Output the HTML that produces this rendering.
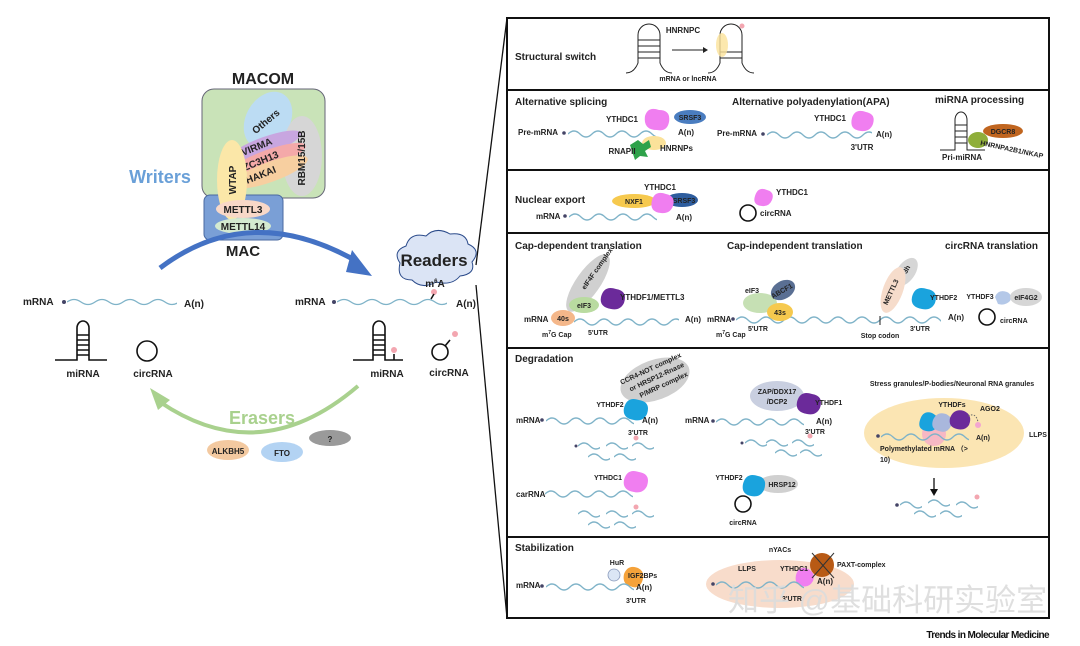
<!DOCTYPE html>
<html><head><meta charset="utf-8"><style>
html,body{margin:0;padding:0;background:#fff;width:1080px;height:646px;overflow:hidden}
svg{display:block}
text{font-family:"Liberation Sans","Noto Sans CJK SC",sans-serif;font-weight:bold;fill:#222}
.s{font-size:8px}
.t{font-size:10px}
.w{fill:none;stroke:#7fb3c8;stroke-width:1.3}
.bk{fill:none;stroke:#111;stroke-width:1.6}
</style></head><body>
<svg width="1080" height="646" viewBox="0 0 1080 646" xmlns="http://www.w3.org/2000/svg">
<defs>
<path id="wv" d="M0 0 q6 -6 12 0 t12 0 t12 0 t12 0 t12 0 t12 0 t12 0 t12 0 t12 0 t12 0 t12 0 t12 0 t12 0 t12 0 t12 0 t12 0 t12 0 t12 0"/>
<path id="wv2" d="M0 0 q7 -5 14 0 t14 0 t14 0 t14 0 t14 0 t14 0 t14 0 t14 0 t14 0"/>
<clipPath id="c1"><rect x="0" y="-10" width="110" height="20"/></clipPath>
<clipPath id="c2"><rect x="0" y="-10" width="88" height="20"/></clipPath>
<clipPath id="c3"><rect x="0" y="-10" width="105" height="20"/></clipPath>
<clipPath id="c4"><rect x="0" y="-10" width="205" height="20"/></clipPath>
<clipPath id="c5"><rect x="0" y="-10" width="22" height="20"/></clipPath>
</defs>

<!-- LEFT -->
<text x="263" y="84" font-size="16" text-anchor="middle">MACOM</text>
<rect x="202" y="89" width="123" height="109" rx="12" fill="#c9e3b8" stroke="#667" stroke-width="1"/>
<ellipse cx="268" cy="120" rx="22" ry="30" fill="#bcdcf3" transform="rotate(30 268 120)"/>
<ellipse cx="302" cy="156" rx="20" ry="40" fill="#d6d6d6"/>
<ellipse cx="265" cy="146" rx="38" ry="9" fill="#c8a6e0" transform="rotate(-20 265 146)"/>
<ellipse cx="268" cy="159" rx="40" ry="9" fill="#f4a9a9" transform="rotate(-20 268 159)"/>
<ellipse cx="270" cy="172" rx="40" ry="10" fill="#f7cfa0" transform="rotate(-20 270 172)"/>
<text x="268" y="124" class="t" text-anchor="middle" transform="rotate(-40 268 124)">Others</text>
<text x="305" y="158" class="t" text-anchor="middle" transform="rotate(-90 305 158)">RBM15/15B</text>
<text x="258" y="150" class="t" text-anchor="middle" transform="rotate(-22 258 150)">VIRMA</text>
<text x="262" y="164" class="t" text-anchor="middle" transform="rotate(-22 262 164)">ZC3H13</text>
<text x="262" y="178" class="t" text-anchor="middle" transform="rotate(-22 262 178)">HAKAI</text>
<rect x="204" y="195" width="79" height="45" rx="6" fill="#7a9fd6" stroke="#4a6aa0" stroke-width="1"/>
<ellipse cx="232" cy="180" rx="15" ry="40" fill="#fbe7a8"/>
<text x="236" y="180" class="t" text-anchor="middle" transform="rotate(-90 236 180)">WTAP</text>
<ellipse cx="243" cy="209" rx="27" ry="9" fill="#f8d8c8"/>
<text x="243" y="213" class="t" text-anchor="middle">METTL3</text>
<ellipse cx="243" cy="226" rx="28" ry="8" fill="#d4ead0"/>
<text x="243" y="230" class="t" text-anchor="middle">METTL14</text>
<text x="243" y="256" font-size="15" text-anchor="middle">MAC</text>
<text x="160" y="183" font-size="18" text-anchor="middle" style="fill:#6aa0d8">Writers</text>
<path d="M160 268 Q 250 200 358 262" fill="none" stroke="#4472c4" stroke-width="5"/>
<polygon points="352,250 372,276 346,272" fill="#4472c4"/>

<text x="23" y="305" class="t">mRNA</text>
<circle cx="64" cy="302" r="2" fill="#446"/>
<use href="#wv2" class="w" transform="translate(67 302)" clip-path="url(#c1)"/>
<text x="184" y="307" class="t">A(n)</text>

<path d="M400 263 q-8 -12 6 -17 q4 -14 20 -10 q10 -10 24 -2 q16 -2 18 10 q14 6 4 18 q4 12 -12 14 q-8 10 -24 6 q-14 8 -24 -2 q-16 0 -12 -17z" fill="#dbe4f5" stroke="#2a4a8a" stroke-width="1"/>
<text x="434" y="266" font-size="17" text-anchor="middle">Readers</text>
<text x="435" y="287" class="t" text-anchor="middle">m<tspan font-size="6" dy="-4">6</tspan><tspan dy="4">A</tspan></text>
<text x="295" y="305" class="t">mRNA</text>
<circle cx="334" cy="302" r="2" fill="#446"/>
<use href="#wv2" class="w" transform="translate(337 302)" clip-path="url(#c1)"/>
<circle cx="434" cy="292" r="3" fill="#f3a6b0"/>
<line x1="434" y1="294" x2="431" y2="299" stroke="#111" stroke-width="1.5"/>
<text x="456" y="307" class="t">A(n)</text>

<!-- stem loops -->
<g class="bk">
<path d="M55 360 H77 V328 a6 7 0 0 1 12 0 V360 H107"/>
<path d="M77 335 H89 M77 340 H89 M77 345 H89 M77 350 H89 M77 355 H89"/>
</g>
<text x="83" y="377" class="t" text-anchor="middle">miRNA</text>
<circle cx="147" cy="351" r="10" class="bk"/>
<text x="153" y="377" class="t" text-anchor="middle">circRNA</text>
<g class="bk">
<path d="M353 360 H373 V328 a6 7 0 0 1 12 0 V360 H403"/>
<path d="M373 335 H385 M373 340 H385 M373 345 H385 M373 350 H385 M373 355 H385"/>
<path d="M394 360 V354"/>
</g>
<circle cx="394" cy="350" r="3" fill="#f3a6b0"/>
<text x="387" y="377" class="t" text-anchor="middle">miRNA</text>
<circle cx="440" cy="352" r="8" class="bk"/>
<line x1="445" y1="346" x2="450" y2="340" stroke="#111" stroke-width="1.6"/>
<circle cx="455" cy="334" r="3" fill="#f3a6b0"/>
<text x="449" y="376" class="t" text-anchor="middle">circRNA</text>

<path d="M358 386 Q 260 470 160 402" fill="none" stroke="#a9d18e" stroke-width="4"/>
<polygon points="150,388 170,400 158,410" fill="#a9d18e"/>
<text x="262" y="424" font-size="18" text-anchor="middle" style="fill:#a9d18e">Erasers</text>
<ellipse cx="228" cy="450" rx="21" ry="10" fill="#f3c9a0"/>
<text x="228" y="454" class="s" text-anchor="middle">ALKBH5</text>
<ellipse cx="282" cy="452" rx="21" ry="10" fill="#b3d3f3"/>
<text x="282" y="456" class="s" text-anchor="middle">FTO</text>
<ellipse cx="330" cy="438" rx="21" ry="8" fill="#9a9a9a"/>
<text x="330" y="442" class="s" text-anchor="middle">?</text>

<!-- bracket lines -->
<line x1="476" y1="265" x2="507" y2="18" stroke="#111" stroke-width="1.3"/>
<line x1="476" y1="285" x2="507" y2="618" stroke="#111" stroke-width="1.3"/>

<!-- RIGHT PANELS -->
<rect x="507" y="18" width="542" height="600" fill="none" stroke="#111" stroke-width="2"/>
<g stroke="#111" stroke-width="2">
<line x1="507" y1="90" x2="1049" y2="90"/><line x1="507" y1="170" x2="1049" y2="170"/>
<line x1="507" y1="233" x2="1049" y2="233"/><line x1="507" y1="348" x2="1049" y2="348"/>
<line x1="507" y1="537" x2="1049" y2="537"/>
</g>

<!-- structural switch -->
<text x="515" y="60" class="t">Structural  switch</text>
<g fill="none" stroke="#222" stroke-width="1">
<path d="M626 73 q8 0 12 -10 V35 a10 10 0 0 1 22 0 V63 q4 10 12 10"/>
<path d="M638 40 H660 M638 46 H660 M638 52 H660 M638 58 H660"/>
<path d="M708 73 q8 0 12 -10 V35 a10 10 0 0 1 22 0 V63 q4 10 12 10"/>
<path d="M720 58 H742 M720 52 H742"/>
<path d="M672 50 H703"/>
</g>
<polygon points="703,47 708,50 703,53" fill="#222"/>
<ellipse cx="722" cy="45" rx="6" ry="12" fill="#fbe29a" opacity="0.8"/>
<circle cx="742" cy="26" r="2.5" fill="#f3a6b0"/>
<text x="683" y="33" class="s" text-anchor="middle">HNRNPC</text>
<text x="688" y="81" font-size="7" text-anchor="middle">mRNA or lncRNA</text>

<!-- alt splicing -->
<text x="515" y="105" class="t">Alternative splicing</text>
<text x="518" y="135" class="s">Pre-mRNA</text>
<circle cx="564" cy="133" r="1.8" fill="#446"/>
<use href="#wv" class="w" transform="translate(568 134)" clip-path="url(#c2)"/>
<ellipse cx="690" cy="117" rx="16" ry="7" fill="#4a7dc0"/>
<text x="690" y="120" font-size="7" text-anchor="middle">SRSF3</text>
<path d="M645 116 q3 -10 14 -6 q12 0 10 12 q-2 10 -12 8 q-14 0 -12 -14z" fill="#f07ef0"/>
<text x="622" y="122" class="s" text-anchor="middle">YTHDC1</text>
<text x="678" y="135" class="s">A(n)</text>
<ellipse cx="654" cy="143" rx="12" ry="7" fill="#fbe29a"/>
<path d="M630 145 l8 -5 l5 4 l6 -4 l2 7 l-6 4 l3 6 l-8 -1 l-5 4 l-2 -6z" fill="#2ea24a"/>
<text x="622" y="154" class="s" text-anchor="middle">RNAPII</text>
<text x="660" y="151" class="s">HNRNPs</text>

<text x="732" y="105" class="t">Alternative polyadenylation(APA)</text>
<text x="717" y="136" class="s">Pre-mRNA</text>
<circle cx="763" cy="134" r="1.8" fill="#446"/>
<use href="#wv" class="w" transform="translate(767 135)" clip-path="url(#c3)"/>
<path d="M852 118 q3 -10 14 -6 q10 2 7 12 q-3 8 -12 7 q-12 -1 -9 -13z" fill="#f07ef0"/>
<text x="830" y="121" class="s" text-anchor="middle">YTHDC1</text>
<text x="876" y="137" class="s">A(n)</text>
<text x="862" y="150" class="s" text-anchor="middle">3'UTR</text>

<text x="935" y="103" class="t">miRNA processing</text>
<g fill="none" stroke="#222" stroke-width="1">
<path d="M940 150 H955 V120 M967 120 V150 H985"/>
<path d="M955 125 H967 M955 131 H967 M955 137 H967 M955 143 H967"/>
<path d="M955 120 a6 8 0 1 1 12 0"/>
</g>
<ellipse cx="1003" cy="131" rx="20" ry="7" fill="#c0651f"/>
<text x="1003" y="134" font-size="7" text-anchor="middle">DGCR8</text>
<ellipse cx="978" cy="140" rx="10" ry="8" fill="#8fae3a"/>
<text x="980" y="145" font-size="7" transform="rotate(12 980 145)">HNRNPA2B1/NKAP</text>
<text x="942" y="160" class="s">Pri-miRNA</text>

<!-- nuclear export -->
<text x="515" y="203" class="t">Nuclear export</text>
<text x="536" y="219" class="s">mRNA</text>
<circle cx="565" cy="216" r="1.8" fill="#446"/>
<use href="#wv" class="w" transform="translate(569 217)" clip-path="url(#c2)"/>
<ellipse cx="634" cy="201" rx="22" ry="7" fill="#f6c94e"/>
<text x="634" y="204" font-size="7" text-anchor="middle">NXF1</text>
<ellipse cx="682" cy="200" rx="16" ry="7" fill="#2e5d9e"/>
<text x="684" y="203" font-size="7" text-anchor="middle">SRSF3</text>
<path d="M652 200 q3 -10 14 -6 q10 2 7 12 q-3 8 -12 7 q-12 -1 -9 -13z" fill="#f07ef0"/>
<text x="660" y="190" class="s" text-anchor="middle">YTHDC1</text>
<text x="676" y="220" class="s">A(n)</text>
<circle cx="748" cy="213" r="8" class="bk"/>
<path d="M755 196 q3 -10 12 -6 q8 2 5 10 q-3 7 -10 6 q-10 -1 -7 -10z" fill="#f07ef0"/>
<text x="776" y="195" class="s">YTHDC1</text>
<text x="760" y="216" class="s">circRNA</text>

<!-- translation -->
<text x="515" y="249" class="t">Cap-dependent translation</text>
<text x="727" y="249" class="t">Cap-independent translation</text>
<text x="945" y="249" class="t">circRNA translation</text>
<ellipse cx="588" cy="283" rx="12" ry="34" fill="#d0d0d0" transform="rotate(35 588 283)"/>
<text x="585" y="290" font-size="7" transform="rotate(-55 585 290)">eIF4F complex</text>
<ellipse cx="563" cy="318" rx="12" ry="8" fill="#f4b78a"/>
<text x="563" y="321" font-size="7" text-anchor="middle">40s</text>
<ellipse cx="584" cy="305" rx="15" ry="8" fill="#b9dba0"/>
<text x="584" y="308" font-size="7" text-anchor="middle">eIF3</text>
<path d="M601 297 q3 -12 15 -8 q12 2 8 14 q-4 8 -13 6 q-12 -2 -10 -12z" fill="#6b2a9a"/>
<text x="620" y="300" class="s">YTHDF1/METTL3</text>
<text x="524" y="322" class="s">mRNA</text>
<use href="#wv" class="w" transform="translate(574 322)" clip-path="url(#c3)"/>
<text x="685" y="322" class="s">A(n)</text>
<text x="542" y="337" font-size="7">m<tspan font-size="5" dy="-3">7</tspan><tspan dy="3">G Cap</tspan></text>
<text x="588" y="335" font-size="7">5'UTR</text>

<text x="707" y="322" class="s">mRNA</text>
<circle cx="733" cy="319" r="1.8" fill="#446"/>
<use href="#wv" class="w" transform="translate(736 320)" clip-path="url(#c4)"/>
<ellipse cx="760" cy="303" rx="17" ry="10" fill="#c6e0b4"/>
<ellipse cx="783" cy="290" rx="13" ry="9" fill="#5a6f93" transform="rotate(-30 783 290)"/>
<text x="783" y="293" font-size="7" text-anchor="middle" transform="rotate(-30 783 293)">ABCF1</text>
<ellipse cx="780" cy="312" rx="13" ry="9" fill="#f6c94e"/>
<text x="780" y="315" font-size="7" text-anchor="middle">43s</text>
<text x="752" y="293" font-size="7" text-anchor="middle">eIF3</text>
<text x="748" y="331" font-size="7">5'UTR</text>
<text x="716" y="337" font-size="7">m<tspan font-size="5" dy="-3">7</tspan><tspan dy="3">G Cap</tspan></text>
<text x="880" y="338" font-size="7" text-anchor="middle">Stop codon</text>
<line x1="880" y1="325" x2="880" y2="316" stroke="#222"/>
<ellipse cx="906" cy="272" rx="16" ry="9" fill="#d6d6d6" transform="rotate(-55 906 272)"/>
<text x="906" y="275" font-size="7" text-anchor="middle" transform="rotate(-60 906 275)">eIF3h</text>
<ellipse cx="893" cy="290" rx="10" ry="24" fill="#f6dccb" transform="rotate(20 893 290)"/>
<text x="893" y="293" font-size="7" text-anchor="middle" transform="rotate(-65 893 293)">METTL3</text>
<path d="M912 297 q3 -12 15 -8 q12 2 8 14 q-4 8 -13 6 q-12 -2 -10 -12z" fill="#1aa3dd"/>
<text x="930" y="300" font-size="7">YTHDF2</text>
<text x="948" y="320" class="s">A(n)</text>
<text x="920" y="331" font-size="7" text-anchor="middle">3'UTR</text>
<path d="M995 297 q3 -8 12 -5 q6 3 3 9 q-5 5 -12 3z" fill="#b4c8e8"/>
<text x="980" y="299" font-size="7" text-anchor="middle">YTHDF3</text>
<ellipse cx="1026" cy="297" rx="16" ry="9" fill="#d6d6d6"/>
<text x="1026" y="300" font-size="7" text-anchor="middle">eIF4G2</text>
<circle cx="987" cy="317" r="8" class="bk"/>
<text x="1000" y="323" font-size="7">circRNA</text>

<!-- degradation -->
<text x="515" y="362" class="t">Degradation</text>
<ellipse cx="655" cy="380" rx="36" ry="20" fill="#cfcfcf" transform="rotate(-20 655 380)"/>
<text x="655" y="370" font-size="7" text-anchor="middle" transform="rotate(-25 655 378)">CCR4-NOT complex</text>
<text x="657" y="380" font-size="7" text-anchor="middle" transform="rotate(-25 655 378)">or HRSP12-Rnase</text>
<text x="660" y="390" font-size="7" text-anchor="middle" transform="rotate(-25 655 378)">P/MRP complex</text>
<path d="M624 408 q3 -12 15 -8 q12 2 8 14 q-4 8 -13 6 q-12 -2 -10 -12z" fill="#1aa3dd"/>
<text x="610" y="407" font-size="7" text-anchor="middle">YTHDF2</text>
<text x="516" y="423" class="s">mRNA</text>
<circle cx="542" cy="420" r="1.8" fill="#446"/>
<use href="#wv" class="w" transform="translate(546 421)" clip-path="url(#c2)"/>
<text x="642" y="423" class="s">A(n)</text>
<text x="628" y="435" font-size="7">3'UTR</text>
<use href="#wv" class="w" transform="translate(578 446)" clip-path="url(#c5)"/>
<use href="#wv" class="w" transform="translate(606 446)" clip-path="url(#c5)"/>
<use href="#wv" class="w" transform="translate(632 446)" clip-path="url(#c5)"/>
<use href="#wv" class="w" transform="translate(588 457)" clip-path="url(#c5)"/>
<use href="#wv" class="w" transform="translate(614 457)" clip-path="url(#c5)"/>
<circle cx="576" cy="446" r="1.5" fill="#446"/><circle cx="636" cy="438" r="2.5" fill="#f3a6b0"/>

<text x="516" y="497" class="s">carRNA</text>
<use href="#wv" class="w" transform="translate(545 494)" clip-path="url(#c2)"/>
<path d="M624 480 q3 -12 15 -8 q12 2 8 14 q-4 8 -13 6 q-12 -2 -10 -12z" fill="#f07ef0"/>
<text x="608" y="480" font-size="7" text-anchor="middle">YTHDC1</text>
<use href="#wv" class="w" transform="translate(578 514)" clip-path="url(#c5)"/>
<use href="#wv" class="w" transform="translate(606 514)" clip-path="url(#c5)"/>
<use href="#wv" class="w" transform="translate(632 514)" clip-path="url(#c5)"/>
<use href="#wv" class="w" transform="translate(588 525)" clip-path="url(#c5)"/>
<use href="#wv" class="w" transform="translate(614 525)" clip-path="url(#c5)"/>
<circle cx="636" cy="507" r="2.5" fill="#f3a6b0"/>

<ellipse cx="777" cy="396" rx="27" ry="15" fill="#c9cfe0"/>
<text x="777" y="394" font-size="7" text-anchor="middle">ZAP/DDX17</text>
<text x="777" y="404" font-size="7" text-anchor="middle">/DCP2</text>
<path d="M797 402 q3 -12 15 -8 q12 2 8 14 q-4 8 -13 6 q-12 -2 -10 -12z" fill="#6b2a9a"/>
<text x="815" y="405" font-size="7">YTHDF1</text>
<text x="685" y="423" class="s">mRNA</text>
<circle cx="713" cy="421" r="1.8" fill="#446"/>
<use href="#wv" class="w" transform="translate(716 422)" clip-path="url(#c2)"/>
<text x="816" y="424" class="s">A(n)</text>
<text x="805" y="434" font-size="7">3'UTR</text>
<use href="#wv" class="w" transform="translate(766 443)" clip-path="url(#c5)"/>
<use href="#wv" class="w" transform="translate(792 443)" clip-path="url(#c5)"/>
<use href="#wv" class="w" transform="translate(745 443)" clip-path="url(#c5)"/>
<use href="#wv" class="w" transform="translate(775 453)" clip-path="url(#c5)"/>
<use href="#wv" class="w" transform="translate(800 453)" clip-path="url(#c5)"/>
<circle cx="742" cy="443" r="1.5" fill="#446"/><circle cx="810" cy="436" r="2.5" fill="#f3a6b0"/>

<ellipse cx="778" cy="484" rx="20" ry="9" fill="#d0d0d0"/>
<text x="782" y="487" font-size="7" text-anchor="middle">HRSP12</text>
<path d="M743 484 q3 -12 15 -8 q10 2 6 14 q-4 8 -13 6 q-10 -2 -8 -12z" fill="#1aa3dd"/>
<text x="729" y="480" font-size="7" text-anchor="middle">YTHDF2</text>
<circle cx="743" cy="504" r="8" class="bk"/>
<text x="743" y="525" font-size="7" text-anchor="middle">circRNA</text>

<text x="952" y="386" font-size="7" text-anchor="middle">Stress granules/P-bodies/Neuronal RNA granules</text>
<ellipse cx="944" cy="433" rx="80" ry="35" fill="#fbe5b3"/>
<text x="952" y="407" font-size="7" text-anchor="middle">YTHDFs</text>
<text x="980" y="411" font-size="7">AGO2</text>
<circle cx="934" cy="434" r="12" fill="#f6b8c4"/>
<path d="M920 420 q3 -10 12 -7 q8 4 6 12 q-4 8 -12 6 q-9 -2 -6 -11z" fill="#1aa3dd"/>
<path d="M933 420 q4 -9 13 -6 q8 4 5 12 q-4 8 -12 5 q-9 -2 -6 -11z" fill="#a9b7dc"/>
<path d="M950 418 q4 -10 14 -7 q9 4 5 14 q-4 6 -12 4 q-9 -2 -7 -11z" fill="#6b2a9a"/>
<path d="M968 416 q8 -4 10 6" fill="none" stroke="#666" stroke-dasharray="1.5 1.5"/>
<circle cx="978" cy="425" r="3" fill="#f3a6d0"/>
<circle cx="878" cy="436" r="1.8" fill="#446"/>
<use href="#wv" class="w" transform="translate(881 437)" clip-path="url(#c2)"/>
<text x="976" y="440" font-size="7">A(n)</text>
<text x="880" y="451" font-size="7">Polymethylated mRNA （&gt;</text>
<text x="880" y="462" font-size="7">10)</text>
<text x="1029" y="437" font-size="7">LLPS</text>
<line x1="934" y1="478" x2="934" y2="492" stroke="#111" stroke-width="1.3"/>
<polygon points="930,489 934,496 938,489" fill="#111"/>
<circle cx="897" cy="505" r="1.8" fill="#446"/>
<use href="#wv" class="w" transform="translate(900 505)" clip-path="url(#c5)"/>
<use href="#wv" class="w" transform="translate(928 503)" clip-path="url(#c5)"/>
<use href="#wv" class="w" transform="translate(956 505)" clip-path="url(#c5)"/>
<use href="#wv" class="w" transform="translate(914 514)" clip-path="url(#c5)"/>
<use href="#wv" class="w" transform="translate(940 514)" clip-path="url(#c5)"/>
<circle cx="977" cy="497" r="2.5" fill="#f3a6b0"/>

<!-- stabilization -->
<text x="515" y="551" class="t">Stabilization</text>
<text x="617" y="565" font-size="7" text-anchor="middle">HuR</text>
<circle cx="614" cy="575" r="6" fill="#dbe6f5" stroke="#8899bb" stroke-width="0.8"/>
<path d="M624 574 q4 -10 14 -6 q8 4 4 14 q-4 8 -12 4 q-8 -2 -6 -12z" fill="#f5a23a"/>
<text x="628" y="578" font-size="7">IGF2BPs</text>
<text x="516" y="588" class="s">mRNA</text>
<circle cx="542" cy="586" r="1.8" fill="#446"/>
<use href="#wv" class="w" transform="translate(546 587)" clip-path="url(#c2)"/>
<text x="636" y="590" class="s">A(n)</text>
<text x="626" y="603" font-size="7">3'UTR</text>

<text x="780" y="552" font-size="7" text-anchor="middle">nYACs</text>
<ellipse cx="780" cy="584" rx="74" ry="24" fill="#f8dccb"/>
<text x="738" y="571" font-size="7">LLPS</text>
<path d="M796 575 q3 -10 12 -6 q8 4 5 12 q-4 7 -11 5 q-8 -2 -6 -11z" fill="#f07ef0"/>
<text x="780" y="571" font-size="7">YTHDC1</text>
<circle cx="713" cy="584" r="1.8" fill="#446"/>
<use href="#wv" class="w" transform="translate(716 585)" clip-path="url(#c2)"/>
<text x="817" y="584" class="s">A(n)</text>
<text x="782" y="601" font-size="7">3'UTR</text>
<circle cx="822" cy="565" r="12" fill="#b85a15"/>
<line x1="812" y1="553" x2="834" y2="578" stroke="#333" stroke-width="1"/>
<line x1="834" y1="553" x2="812" y2="578" stroke="#333" stroke-width="1"/>
<text x="837" y="567" font-size="7">PAXT-complex</text>

<text x="728" y="611" font-size="31" style="fill:#dcdcdc;font-weight:normal" opacity="0.9">知乎 @基础科研实验室</text>
<text x="1049" y="638" font-size="10" text-anchor="end" letter-spacing="-0.6" style="fill:#111">Trends in Molecular Medicine</text>
</svg>
</body></html>
